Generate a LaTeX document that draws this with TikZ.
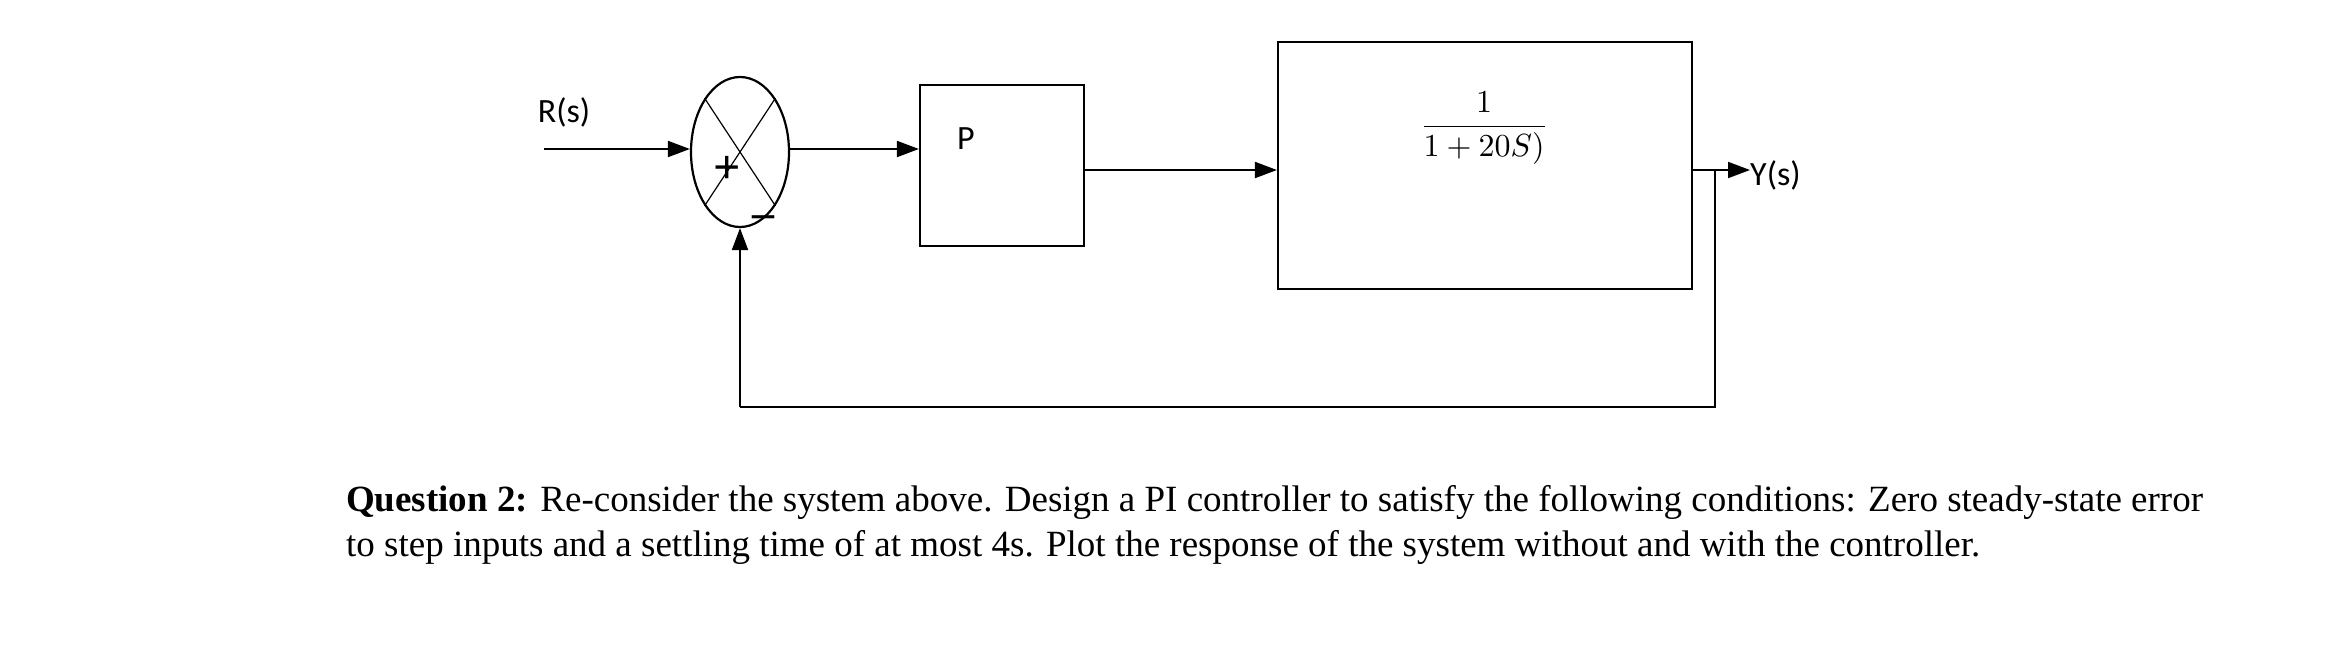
\documentclass[tikz,border=0pt]{standalone}
\usepackage{fontspec}
\setmainfont{Liberation Serif}
\newfontfamily\carlitofont{Carlito}
\usetikzlibrary{arrows.meta,shapes.geometric}
\begin{document}
\begin{tikzpicture}[x=1pt,y=-1pt,
  ln/.style={line width=2pt},
  arr/.style={ln,-{Triangle[length=22pt,width=16pt]}},
  blk/.style={draw,line width=2.2pt,inner sep=0pt},
  lbl/.style={font=\carlitofont\fontsize{34}{38}\selectfont,inner sep=0pt}]
\useasboundingbox (0,0) rectangle (2338,659);
\node[draw,ellipse,line width=2.2pt,minimum width=98pt,minimum height=150pt,inner sep=0pt] (sum) at (740,152) {};
\draw[line width=1.2pt] (sum.north west) -- (sum.south east) (sum.north east) -- (sum.south west);
\node[lbl] (r) at (564,112) {R(s)};
\coordinate (in) at (544,149);
\node[inner sep=0pt,font=\bfseries\fontsize{48}{50}\selectfont] (plus) at (727,170) {+};
\node[inner sep=0pt,font=\bfseries\fontsize{44}{50}\selectfont] (minus) at (763,222) {--};
\node[blk,minimum width=164pt,minimum height=161pt] (p) at (1002,165.5) {};
\node[lbl] (pl) at (966,139) {P};
\node[blk,minimum width=414pt,minimum height=247pt] (g) at (1485,165.5) {};
\node[inner sep=0pt] (tf) at (1484,128) {\scalebox{3.2}{$\displaystyle\frac{1}{1+20S)}$}};
\coordinate (o1) at (1692,170);
\coordinate (br) at (1715,170);
\node[lbl,anchor=west] (y) at (1750,175) {Y(s)};
\coordinate (fb1) at (1715,407);
\coordinate (fb2) at (740,407);
\draw[arr] (in) -- (sum.west|-in);
\draw[arr] (sum.east|-in) -- (p.west|-in);
\draw[arr] (p.east|-o1) -- (g.west|-o1);
\draw[arr] (o1) -- (y.west|-o1);
\draw[ln] (br) -- (fb1) -- (fb2);
\draw[arr] (fb2) -- (sum.south);
\node[anchor=west,align=left,inner sep=0pt,font=\fontsize{37}{45}\selectfont] (q) at (346,525)
 {\textbf{Question 2:} Re-consider the system above. Design a PI controller to satisfy the following conditions: Zero steady-state error\\
 to step inputs and a settling time of at most 4s. Plot the response of the system without and with the controller.};
\end{tikzpicture}
\end{document}
